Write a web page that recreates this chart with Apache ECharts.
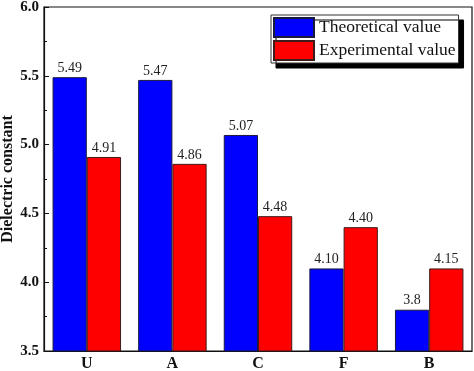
<!DOCTYPE html>
<html>
<head>
<meta charset="utf-8">
<script src="https://cdn.jsdelivr.net/npm/echarts@6/dist/echarts.min.js"></script>
<style>
html,body{margin:0;padding:0;background:#fff;}
#c{width:474px;height:371px;}
</style>
</head>
<body>
<div id="c"></div>
<script>
var categories = ['U', 'A', 'C', 'F', 'B'];
var theoreticalValues = [5.49, 5.47, 5.07, 4.10, 3.80];
var experimentalValues = [4.91, 4.86, 4.48, 4.40, 4.10];
var theoreticalLabels = ['5.49', '5.47', '5.07', '4.10', '3.8'];
var experimentalLabels = ['4.91', '4.86', '4.48', '4.40', '4.15'];
var seriesNames = ['Theoretical value', 'Experimental value'];
var yTicks = [3.5, 4.0, 4.5, 5.0, 5.5, 6.0];

var FONT = '"Liberation Serif", "Times New Roman", serif';
var chart = echarts.init(document.getElementById('c'), null, {renderer: 'canvas'});
chart.setOption({
  animation: false,
  backgroundColor: '#fff',
  grid: {left: 44, right: 2, top: 7, bottom: 20, containLabel: false, outerBoundsMode: 'none',
    show: true, borderColor: '#111', borderWidth: 1.2, backgroundColor: 'transparent'},
  legend: {
    orient: 'vertical',
    left: 271, top: 15,
    padding: [2, 3, 2, 2],
    itemGap: 2,
    itemWidth: 40,
    itemHeight: 19,
    backgroundColor: '#fff',
    borderColor: '#333',
    borderWidth: 1,
    shadowColor: '#000',
    shadowOffsetX: 5,
    shadowOffsetY: 5,
    shadowBlur: 0,
    icon: 'rect',
    textStyle: {fontFamily: FONT, fontSize: 17.5, color: '#111', padding: [0, 0, 0, 0]},
    data: seriesNames
  },
  xAxis: {
    type: 'category',
    data: categories,
    axisLine: {lineStyle: {color: '#111', width: 1.2}},
    axisTick: {show: false},
    axisLabel: {fontFamily: FONT, fontWeight: 'bold', fontSize: 16, color: '#111', margin: 5}
  },
  yAxis: {
    type: 'value',
    min: yTicks[0], max: yTicks[yTicks.length - 1], interval: 0.5,
    name: 'Dielectric constant',
    nameLocation: 'middle',
    nameGap: 28,
    nameMoveOverlap: false,
    nameTextStyle: {fontFamily: FONT, fontWeight: 'bold', fontSize: 16, color: '#111'},
    axisLine: {show: true, lineStyle: {color: '#111', width: 1.2}},
    axisTick: {show: true, inside: true, length: 5, lineStyle: {color: '#111'}},
    minorTick: {show: true, splitNumber: 2, length: 3, lineStyle: {color: '#111'}},
    splitLine: {show: false},
    axisLabel: {fontFamily: FONT, fontWeight: 'bold', fontSize: 15, color: '#111', margin: 5,
      formatter: function (v) { return v.toFixed(1); }}
  },
  series: [
    {
      name: seriesNames[0], type: 'bar', data: theoreticalValues,
      barWidth: '40%', barGap: '0%',
      itemStyle: {color: '#0000ff', borderColor: '#1a1a40', borderWidth: 1},
      label: {show: true, position: 'top', distance: 2, fontFamily: FONT, fontSize: 14, color: '#222',
        formatter: function (p) { return theoreticalLabels[p.dataIndex]; }}
    },
    {
      name: seriesNames[1], type: 'bar', data: experimentalValues,
      barWidth: '40%', barGap: '0%',
      itemStyle: {color: '#ff0000', borderColor: '#401a1a', borderWidth: 1},
      label: {show: true, position: 'top', distance: 2, fontFamily: FONT, fontSize: 14, color: '#222',
        formatter: function (p) { return experimentalLabels[p.dataIndex]; }}
    }
  ]
});
</script>
</body>
</html>
